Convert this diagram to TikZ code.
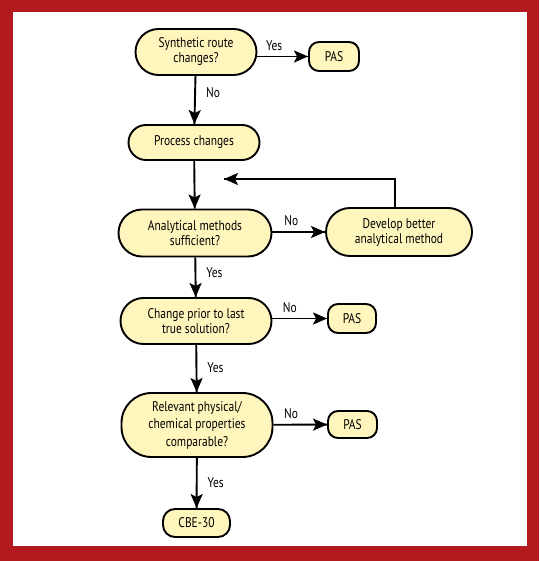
\documentclass[tikz,border=0pt]{standalone}
\usepackage{fontspec}
\setmainfont{PT Sans}[FakeStretch=0.82]
\usepackage{tikz}
\usetikzlibrary{arrows.meta}
\usetikzlibrary{decorations.markings}
\usetikzlibrary{positioning}
\tikzset{->/.style = {decoration={markings,
                                  mark=at position 1 with {\arrow{Stealth[length=14pt, width=12pt, inset=3pt]}}},
                      postaction={decorate}}}
\tikzset{capsule/.style = {draw, line width=1.9pt, fill=myellow, align=center,
                           inner sep=0pt, rounded corners=#1},
         term/.style = {capsule=10pt, minimum height=29pt},
         lbl/.style = {inner sep=5pt},
         every node/.style = {font=\fontsize{14}{15}\selectfont}}
\definecolor{mred}{RGB}{180, 25, 32}
\definecolor{myellow}{RGB}{255, 246, 189}

\begin{document}
\begin{tikzpicture}[x=1pt, y=-1pt, line width=1.9pt]
    \fill [mred] (0, 0) rectangle (539, 561);
    \fill [white] (13, 12) rectangle (527, 546);

    \node [capsule=23pt, minimum width=121pt, minimum height=46pt] (syn) at (196, 52) {Synthetic route\\changes?};
    \node [term, minimum width=50pt] (pas1) at (334, 56.5) {PAS};
    \node [capsule=17.5pt, minimum width=131pt, minimum height=35pt] (proc) at (194, 142.5) {Process changes};
    \node [capsule=23.5pt, minimum width=153pt, minimum height=47pt] (ana) at (195, 233) {Analytical methods\\sufficient?};
    \node [capsule=24pt, minimum width=146pt, minimum height=48pt] (dev) at (399, 232) {Develop better\\analytical method};
    \node [capsule=23pt, minimum width=151pt, minimum height=46pt] (chg) at (196, 321) {Change prior to last\\true solution?};
    \node [term, minimum width=48pt] (pas2) at (352, 318.5) {PAS};
    \node [capsule=30pt, minimum width=151pt, minimum height=64pt,
           font=\fontsize{14}{17.5}\selectfont] (rel) at (197, 425) {Relevant physical/\\chemical properties\\comparable?};
    \node [term, minimum width=49pt, minimum height=27pt] (pas3) at (352.5, 424.5) {PAS};
    \node [capsule=12pt, minimum width=67pt, minimum height=28pt] (cbe) at (196.5, 523) {CBE-30};
    \coordinate (back) at (224, 179); % loop back

    \draw [->] (syn.east |- pas1) -- node [lbl, above, pos=0.33] {Yes} (pas1);
    \draw [->] (syn) -- node [lbl, right=5pt, pos=0.35] {No} (proc);
    \draw [->] (proc) -- (ana);
    \draw [->] (ana.east |- dev) -- node [lbl, above, pos=0.36] {No} (dev);
    \draw [->] ([xshift=-4pt]dev.north) |- (back);
    \draw [->] (ana) -- node [lbl, right=5pt, pos=0.38] {Yes} (chg);
    \draw [->] (chg.east |- pas2) -- node [lbl, above, pos=0.32] {No} (pas2);
    \draw [->] (chg) -- node [lbl, right=5pt, pos=0.49] {Yes} (rel);
    \draw [->] (rel) -- node [lbl, above, pos=0.33] {No} (pas3);
    \draw [->] (rel) -- node [lbl, right=5pt, pos=0.5] {Yes} (cbe);
  \end{tikzpicture}
\end{document}
